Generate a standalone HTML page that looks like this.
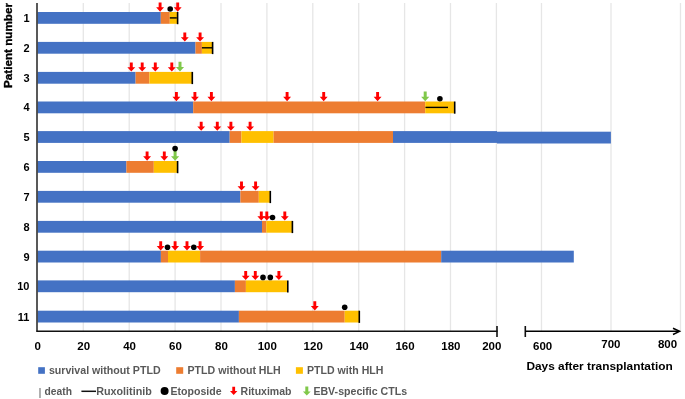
<!DOCTYPE html>
<html><head><meta charset="utf-8"><style>
html,body{margin:0;padding:0;background:#fff;}
body{width:685px;height:399px;overflow:hidden;font-family:"Liberation Sans", sans-serif;}
svg{display:block;will-change:transform;}
</style></head><body>
<svg width="685" height="399" viewBox="0 0 685 399">
<rect width="685" height="399" fill="#fff"/>
<line x1="83.30" y1="3" x2="83.30" y2="331" stroke="#E6E6E6" stroke-width="1.3"/>
<line x1="129.20" y1="3" x2="129.20" y2="331" stroke="#E6E6E6" stroke-width="1.3"/>
<line x1="175.10" y1="3" x2="175.10" y2="331" stroke="#E6E6E6" stroke-width="1.3"/>
<line x1="221.00" y1="3" x2="221.00" y2="331" stroke="#E6E6E6" stroke-width="1.3"/>
<line x1="266.90" y1="3" x2="266.90" y2="331" stroke="#E6E6E6" stroke-width="1.3"/>
<line x1="312.80" y1="3" x2="312.80" y2="331" stroke="#E6E6E6" stroke-width="1.3"/>
<line x1="358.70" y1="3" x2="358.70" y2="331" stroke="#E6E6E6" stroke-width="1.3"/>
<line x1="404.60" y1="3" x2="404.60" y2="331" stroke="#E6E6E6" stroke-width="1.3"/>
<line x1="450.50" y1="3" x2="450.50" y2="331" stroke="#E6E6E6" stroke-width="1.3"/>
<line x1="496.40" y1="3" x2="496.40" y2="331" stroke="#E6E6E6" stroke-width="1.3"/>
<line x1="541.50" y1="3" x2="541.50" y2="331" stroke="#E6E6E6" stroke-width="1.3"/>
<line x1="611.00" y1="3" x2="611.00" y2="331" stroke="#E6E6E6" stroke-width="1.3"/>
<line x1="680.50" y1="3" x2="680.50" y2="331" stroke="#E6E6E6" stroke-width="1.3"/>
<rect x="37.40" y="12.00" width="123.40" height="11.80" fill="#4472C4"/>
<rect x="160.80" y="12.00" width="9.00" height="11.80" fill="#ED7D31"/>
<rect x="169.80" y="12.00" width="7.40" height="11.80" fill="#FFC000"/>
<rect x="37.40" y="41.90" width="158.10" height="11.80" fill="#4472C4"/>
<rect x="195.50" y="41.90" width="6.40" height="11.80" fill="#ED7D31"/>
<rect x="201.90" y="41.90" width="10.40" height="11.80" fill="#FFC000"/>
<rect x="37.40" y="71.90" width="98.20" height="11.80" fill="#4472C4"/>
<rect x="135.60" y="71.90" width="13.80" height="11.80" fill="#ED7D31"/>
<rect x="149.40" y="71.90" width="42.70" height="11.80" fill="#FFC000"/>
<rect x="37.40" y="101.50" width="155.80" height="11.80" fill="#4472C4"/>
<rect x="193.20" y="101.50" width="232.00" height="11.80" fill="#ED7D31"/>
<rect x="425.20" y="101.50" width="29.10" height="11.80" fill="#FFC000"/>
<rect x="37.40" y="131.10" width="192.30" height="11.80" fill="#4472C4"/>
<rect x="229.70" y="131.10" width="11.70" height="11.80" fill="#ED7D31"/>
<rect x="241.40" y="131.10" width="32.20" height="11.80" fill="#FFC000"/>
<rect x="273.60" y="131.10" width="119.40" height="11.80" fill="#ED7D31"/>
<rect x="393.00" y="131.10" width="104.00" height="11.80" fill="#4472C4"/>
<rect x="497.00" y="131.70" width="113.90" height="11.80" fill="#4472C4"/>
<rect x="37.40" y="161.00" width="89.00" height="11.80" fill="#4472C4"/>
<rect x="126.40" y="161.00" width="27.40" height="11.80" fill="#ED7D31"/>
<rect x="153.80" y="161.00" width="23.40" height="11.80" fill="#FFC000"/>
<rect x="37.40" y="190.90" width="203.00" height="11.80" fill="#4472C4"/>
<rect x="240.40" y="190.90" width="18.40" height="11.80" fill="#ED7D31"/>
<rect x="258.80" y="190.90" width="11.30" height="11.80" fill="#FFC000"/>
<rect x="37.40" y="220.90" width="224.60" height="11.80" fill="#4472C4"/>
<rect x="262.00" y="220.90" width="4.30" height="11.80" fill="#ED7D31"/>
<rect x="266.30" y="220.90" width="25.80" height="11.80" fill="#FFC000"/>
<rect x="37.40" y="250.70" width="123.50" height="11.80" fill="#4472C4"/>
<rect x="160.90" y="250.70" width="7.10" height="11.80" fill="#ED7D31"/>
<rect x="168.00" y="250.70" width="32.10" height="11.80" fill="#FFC000"/>
<rect x="200.10" y="250.70" width="241.10" height="11.80" fill="#ED7D31"/>
<rect x="441.20" y="250.70" width="132.60" height="11.80" fill="#4472C4"/>
<rect x="37.40" y="280.40" width="197.50" height="11.80" fill="#4472C4"/>
<rect x="234.90" y="280.40" width="11.00" height="11.80" fill="#ED7D31"/>
<rect x="245.90" y="280.40" width="41.40" height="11.80" fill="#FFC000"/>
<rect x="37.40" y="310.70" width="201.50" height="11.80" fill="#4472C4"/>
<rect x="238.90" y="310.70" width="105.80" height="11.80" fill="#ED7D31"/>
<rect x="344.70" y="310.70" width="14.30" height="11.80" fill="#FFC000"/>
<line x1="169.80" y1="17.90" x2="176.80" y2="17.90" stroke="#000" stroke-width="1.4"/>
<line x1="177.60" y1="12.00" x2="177.60" y2="24.20" stroke="#000" stroke-width="1.6"/>
<polygon points="158.65,2.60 161.55,2.60 161.55,7.30 164.05,7.30 160.10,11.70 156.15,7.30 158.65,7.30" fill="#FF0000"/>
<polygon points="176.25,2.60 179.15,2.60 179.15,7.30 181.65,7.30 177.70,11.70 173.75,7.30 176.25,7.30" fill="#FF0000"/>
<circle cx="170.20" cy="9.00" r="2.8" fill="#000"/>
<line x1="201.90" y1="47.80" x2="212.00" y2="47.80" stroke="#000" stroke-width="1.4"/>
<line x1="212.60" y1="41.90" x2="212.60" y2="54.10" stroke="#000" stroke-width="1.6"/>
<polygon points="183.35,32.50 186.25,32.50 186.25,37.20 188.75,37.20 184.80,41.60 180.85,37.20 183.35,37.20" fill="#FF0000"/>
<polygon points="198.65,32.50 201.55,32.50 201.55,37.20 204.05,37.20 200.10,41.60 196.15,37.20 198.65,37.20" fill="#FF0000"/>
<line x1="192.30" y1="71.90" x2="192.30" y2="84.10" stroke="#000" stroke-width="1.6"/>
<polygon points="129.85,62.50 132.75,62.50 132.75,67.20 135.25,67.20 131.30,71.60 127.35,67.20 129.85,67.20" fill="#FF0000"/>
<polygon points="140.75,62.50 143.65,62.50 143.65,67.20 146.15,67.20 142.20,71.60 138.25,67.20 140.75,67.20" fill="#FF0000"/>
<polygon points="153.85,62.50 156.75,62.50 156.75,67.20 159.25,67.20 155.30,71.60 151.35,67.20 153.85,67.20" fill="#FF0000"/>
<polygon points="170.35,62.50 173.25,62.50 173.25,67.20 175.75,67.20 171.80,71.60 167.85,67.20 170.35,67.20" fill="#FF0000"/>
<polygon points="178.50,61.80 181.50,61.80 181.50,67.10 184.10,67.10 180.00,71.60 175.90,67.10 178.50,67.10" fill="#80C84A"/>
<line x1="425.50" y1="107.40" x2="448.00" y2="107.40" stroke="#000" stroke-width="1.4"/>
<line x1="454.70" y1="101.50" x2="454.70" y2="113.70" stroke="#000" stroke-width="1.6"/>
<polygon points="174.95,92.10 177.85,92.10 177.85,96.80 180.35,96.80 176.40,101.20 172.45,96.80 174.95,96.80" fill="#FF0000"/>
<polygon points="193.45,92.10 196.35,92.10 196.35,96.80 198.85,96.80 194.90,101.20 190.95,96.80 193.45,96.80" fill="#FF0000"/>
<polygon points="209.95,92.10 212.85,92.10 212.85,96.80 215.35,96.80 211.40,101.20 207.45,96.80 209.95,96.80" fill="#FF0000"/>
<polygon points="285.65,92.10 288.55,92.10 288.55,96.80 291.05,96.80 287.10,101.20 283.15,96.80 285.65,96.80" fill="#FF0000"/>
<polygon points="322.25,92.10 325.15,92.10 325.15,96.80 327.65,96.80 323.70,101.20 319.75,96.80 322.25,96.80" fill="#FF0000"/>
<polygon points="376.15,92.10 379.05,92.10 379.05,96.80 381.55,96.80 377.60,101.20 373.65,96.80 376.15,96.80" fill="#FF0000"/>
<polygon points="423.70,91.40 426.70,91.40 426.70,96.70 429.30,96.70 425.20,101.20 421.10,96.70 423.70,96.70" fill="#80C84A"/>
<circle cx="439.90" cy="98.70" r="2.8" fill="#000"/>
<polygon points="199.75,121.70 202.65,121.70 202.65,126.40 205.15,126.40 201.20,130.80 197.25,126.40 199.75,126.40" fill="#FF0000"/>
<polygon points="215.85,121.70 218.75,121.70 218.75,126.40 221.25,126.40 217.30,130.80 213.35,126.40 215.85,126.40" fill="#FF0000"/>
<polygon points="229.45,121.70 232.35,121.70 232.35,126.40 234.85,126.40 230.90,130.80 226.95,126.40 229.45,126.40" fill="#FF0000"/>
<polygon points="248.65,121.70 251.55,121.70 251.55,126.40 254.05,126.40 250.10,130.80 246.15,126.40 248.65,126.40" fill="#FF0000"/>
<line x1="177.60" y1="161.00" x2="177.60" y2="173.20" stroke="#000" stroke-width="1.6"/>
<polygon points="145.65,151.60 148.55,151.60 148.55,156.30 151.05,156.30 147.10,160.70 143.15,156.30 145.65,156.30" fill="#FF0000"/>
<polygon points="162.85,151.60 165.75,151.60 165.75,156.30 168.25,156.30 164.30,160.70 160.35,156.30 162.85,156.30" fill="#FF0000"/>
<polygon points="173.60,150.90 176.60,150.90 176.60,156.20 179.20,156.20 175.10,160.70 171.00,156.20 173.60,156.20" fill="#80C84A"/>
<circle cx="175.10" cy="148.60" r="2.8" fill="#000"/>
<line x1="270.30" y1="190.90" x2="270.30" y2="203.10" stroke="#000" stroke-width="1.6"/>
<polygon points="240.05,181.50 242.95,181.50 242.95,186.20 245.45,186.20 241.50,190.60 237.55,186.20 240.05,186.20" fill="#FF0000"/>
<polygon points="254.15,181.50 257.05,181.50 257.05,186.20 259.55,186.20 255.60,190.60 251.65,186.20 254.15,186.20" fill="#FF0000"/>
<line x1="292.40" y1="220.90" x2="292.40" y2="233.10" stroke="#000" stroke-width="1.6"/>
<polygon points="259.85,211.50 262.75,211.50 262.75,216.20 265.25,216.20 261.30,220.60 257.35,216.20 259.85,216.20" fill="#FF0000"/>
<polygon points="265.35,211.50 268.25,211.50 268.25,216.20 270.75,216.20 266.80,220.60 262.85,216.20 265.35,216.20" fill="#FF0000"/>
<polygon points="283.35,211.50 286.25,211.50 286.25,216.20 288.75,216.20 284.80,220.60 280.85,216.20 283.35,216.20" fill="#FF0000"/>
<circle cx="272.50" cy="217.50" r="2.8" fill="#000"/>
<polygon points="159.25,241.30 162.15,241.30 162.15,246.00 164.65,246.00 160.70,250.40 156.75,246.00 159.25,246.00" fill="#FF0000"/>
<polygon points="173.65,241.30 176.55,241.30 176.55,246.00 179.05,246.00 175.10,250.40 171.15,246.00 173.65,246.00" fill="#FF0000"/>
<polygon points="185.55,241.30 188.45,241.30 188.45,246.00 190.95,246.00 187.00,250.40 183.05,246.00 185.55,246.00" fill="#FF0000"/>
<polygon points="198.65,241.30 201.55,241.30 201.55,246.00 204.05,246.00 200.10,250.40 196.15,246.00 198.65,246.00" fill="#FF0000"/>
<circle cx="167.50" cy="247.30" r="2.8" fill="#000"/>
<circle cx="193.80" cy="247.30" r="2.8" fill="#000"/>
<line x1="287.80" y1="280.40" x2="287.80" y2="292.60" stroke="#000" stroke-width="1.6"/>
<polygon points="244.25,271.00 247.15,271.00 247.15,275.70 249.65,275.70 245.70,280.10 241.75,275.70 244.25,275.70" fill="#FF0000"/>
<polygon points="253.85,271.00 256.75,271.00 256.75,275.70 259.25,275.70 255.30,280.10 251.35,275.70 253.85,275.70" fill="#FF0000"/>
<polygon points="277.45,271.00 280.35,271.00 280.35,275.70 282.85,275.70 278.90,280.10 274.95,275.70 277.45,275.70" fill="#FF0000"/>
<circle cx="263.00" cy="277.40" r="2.8" fill="#000"/>
<circle cx="270.30" cy="277.40" r="2.8" fill="#000"/>
<line x1="359.30" y1="310.70" x2="359.30" y2="322.90" stroke="#000" stroke-width="1.6"/>
<polygon points="313.35,301.30 316.25,301.30 316.25,306.00 318.75,306.00 314.80,310.40 310.85,306.00 313.35,306.00" fill="#FF0000"/>
<circle cx="344.70" cy="307.30" r="2.8" fill="#000"/>
<line x1="37" y1="3" x2="37" y2="331.5" stroke="#3c3c3c" stroke-width="1.7"/>
<line x1="36.3" y1="331.3" x2="497.5" y2="331.3" stroke="#111" stroke-width="1.5"/>
<line x1="497" y1="326" x2="497" y2="337" stroke="#111" stroke-width="1.6"/>
<line x1="525.3" y1="326" x2="525.3" y2="337" stroke="#111" stroke-width="1.6"/>
<line x1="525.3" y1="331.3" x2="679" y2="331.3" stroke="#000" stroke-width="1.5"/>
<polyline points="673,328.2 679.6,331.3 673,334.5" fill="none" stroke="#000" stroke-width="1.5" stroke-linejoin="miter"/>
<g font-family="Liberation Sans, sans-serif" font-weight="bold" font-size="11" fill="#000"><text x="29.5" y="21.80" text-anchor="end">1</text><text x="29.5" y="51.70" text-anchor="end">2</text><text x="29.5" y="81.70" text-anchor="end">3</text><text x="29.5" y="111.30" text-anchor="end">4</text><text x="29.5" y="140.90" text-anchor="end">5</text><text x="29.5" y="170.80" text-anchor="end">6</text><text x="29.5" y="200.70" text-anchor="end">7</text><text x="29.5" y="230.70" text-anchor="end">8</text><text x="29.5" y="260.50" text-anchor="end">9</text><text x="29.5" y="290.20" text-anchor="end">10</text><text x="29.5" y="320.50" text-anchor="end">11</text></g>
<g font-family="Liberation Sans, sans-serif" font-weight="bold" font-size="11.5" fill="#000"><text x="37.80" y="350.4" text-anchor="middle">0</text><text x="83.70" y="350.4" text-anchor="middle">20</text><text x="129.60" y="350.4" text-anchor="middle">40</text><text x="175.50" y="350.4" text-anchor="middle">60</text><text x="221.40" y="350.4" text-anchor="middle">80</text><text x="267.30" y="350.4" text-anchor="middle">100</text><text x="313.20" y="350.4" text-anchor="middle">120</text><text x="359.10" y="350.4" text-anchor="middle">140</text><text x="405.00" y="350.4" text-anchor="middle">160</text><text x="450.90" y="350.4" text-anchor="middle">180</text><text x="491.8" y="350.4" text-anchor="middle">200</text><text x="542.6" y="349.6" text-anchor="middle">600</text><text x="610.9" y="348.2" text-anchor="middle">700</text><text x="667.5" y="348.2" text-anchor="middle">800</text></g>
<text x="0" y="0" transform="translate(11.6,88) rotate(-90)" font-family="Liberation Sans, sans-serif" font-weight="bold" font-size="11.3" fill="#000" stroke="#000" stroke-width="0.35" textLength="85" lengthAdjust="spacingAndGlyphs">Patient number</text>
<text x="526.4" y="369.9" font-family="Liberation Sans, sans-serif" font-weight="bold" font-size="11.5" fill="#000" textLength="146.3" lengthAdjust="spacingAndGlyphs">Days after transplantation</text>
<g font-family="Liberation Sans, sans-serif" font-weight="bold" font-size="10.6" fill="#595959"><rect x="38.2" y="367.2" width="6.7" height="6.6" fill="#4472C4"/><text x="48.9" y="373.7" textLength="111.7" lengthAdjust="spacingAndGlyphs">survival without PTLD</text><rect x="176.2" y="367.2" width="7" height="6.6" fill="#ED7D31"/><text x="187.5" y="373.7" textLength="93.2" lengthAdjust="spacingAndGlyphs">PTLD without HLH</text><rect x="295.9" y="367.2" width="7" height="6.6" fill="#FFC000"/><text x="307" y="373.7" textLength="76.4" lengthAdjust="spacingAndGlyphs">PTLD with HLH</text><text x="38.4" y="395.6" font-weight="normal" font-size="11.5">|</text><text x="44.6" y="395.0" textLength="27.4" lengthAdjust="spacingAndGlyphs">death</text><line x1="81.4" y1="391.3" x2="96" y2="391.3" stroke="#111" stroke-width="1.5"/><text x="96.2" y="395.0" textLength="55.6" lengthAdjust="spacingAndGlyphs">Ruxolitinib</text><circle cx="164.6" cy="391.1" r="4" fill="#000"/><text x="170.5" y="395.0" textLength="51.1" lengthAdjust="spacingAndGlyphs">Etoposide</text><polygon points="232.30,386.80 235.10,386.80 235.10,391.00 237.40,391.00 233.70,395.00 230.00,391.00 232.30,391.00" fill="#FF0000"/><text x="240.6" y="395.0" textLength="50.9" lengthAdjust="spacingAndGlyphs">Rituximab</text><polygon points="305.30,386.40 308.30,386.40 308.30,391.40 310.70,391.40 306.80,395.60 302.90,391.40 305.30,391.40" fill="#80C84A"/><text x="313.4" y="395.0" textLength="93.7" lengthAdjust="spacingAndGlyphs">EBV-specific CTLs</text></g>
</svg>
</body></html>
